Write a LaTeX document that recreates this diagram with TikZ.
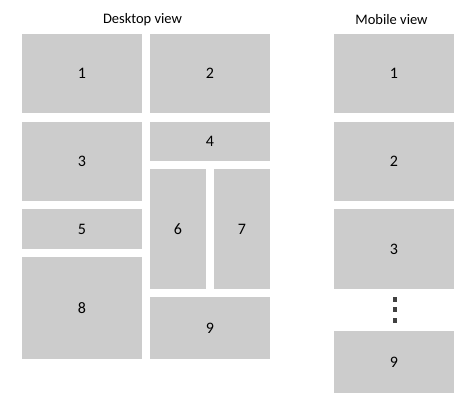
\documentclass[tikz,border=0pt]{standalone}
\usepackage{fontspec}
\setmainfont{Carlito}
\definecolor{boxgray}{HTML}{CCCCCC}
\definecolor{dotgray}{HTML}{404040}
\begin{document}
\begin{tikzpicture}[x=1pt,y=-1pt,
  panel/.style={fill=boxgray,draw=none,inner sep=0pt,font=\fontsize{16}{19}\selectfont},
  title/.style={inner sep=0pt,font=\fontsize{14.5}{17}\selectfont},
  dotbox/.style={fill=dotgray,draw=none,inner sep=0pt,minimum width=4pt,minimum height=5pt}]
\useasboundingbox (0,0) rectangle (474,412);
\node[title] (tdesk) at (142.5,20) {Desktop view};
\node[title] (tmob) at (391.5,20) {Mobile view};
% desktop
\node[panel,minimum width=120pt,minimum height=79pt] (d1) at (82,73.5) {1};
\node[panel,minimum width=120pt,minimum height=79pt] (d2) at (210,73.5) {2};
\node[panel,minimum width=120pt,minimum height=79pt] (d3) at (82,161.5) {3};
\node[panel,minimum width=120pt,minimum height=39pt] (d4) at (210,141.5) {4};
\node[panel,minimum width=120pt,minimum height=40pt] (d5) at (82,229) {5};
\node[panel,minimum width=56pt,minimum height=120pt] (d6) at (178,229) {6};
\node[panel,minimum width=56pt,minimum height=120pt] (d7) at (242,229) {7};
\node[panel,minimum width=120pt,minimum height=102pt] (d8) at (82,308) {8};
\node[panel,minimum width=120pt,minimum height=62pt] (d9) at (210,328) {9};
% mobile
\node[panel,minimum width=120pt,minimum height=79pt] (m1) at (394,73.5) {1};
\node[panel,minimum width=120pt,minimum height=79pt] (m2) at (394,161.5) {2};
\node[panel,minimum width=120pt,minimum height=80pt] (m3) at (394,249) {3};
\node[panel,minimum width=120pt,minimum height=62pt] (m9) at (394,362) {9};
\node[dotbox] (dot1) at (395,299) {};
\node[dotbox] (dot2) at (395,309.5) {};
\node[dotbox] (dot3) at (395,320) {};
\end{tikzpicture}
\end{document}
